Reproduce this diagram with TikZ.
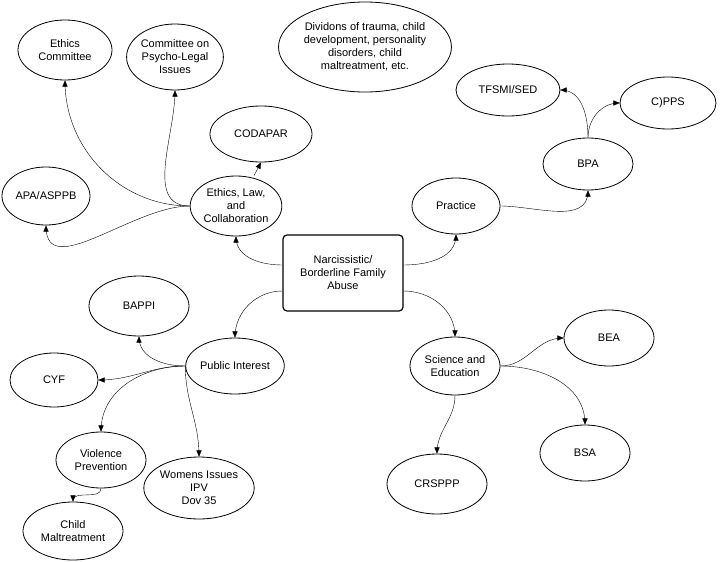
\documentclass[tikz,border=0pt]{standalone}
\usepackage{fontspec}
\setmainfont{Liberation Sans}
\usetikzlibrary{shapes.geometric,arrows}

\tikzset{
	topic/.style={draw, thick, ellipse, inner sep=0pt, align=center, font=\fontsize{11}{13}\selectfont},
	hub/.style={draw, very thick, rounded corners=4pt, minimum width=120pt, minimum height=76pt, align=center, font=\fontsize{11}{13}\selectfont},
	link/.style={->, >=triangle 45, thin}
}

\begin{document}
\begin{tikzpicture}[x=1pt, y=-1pt]
	\useasboundingbox (0,0) rectangle (721,562);
	\node[hub] (nb) at (343,273) {Narcissistic/\\Borderline Family\\Abuse};
	\node[topic, minimum width=94pt, minimum height=60pt] (ec) at (65,50) {Ethics\\Committee};
	\node[topic, minimum width=94pt, minimum height=66pt] (cpl) at (175,57) {Committee on\\Psycho-Legal\\Issues};
	\node[topic, minimum width=160pt, minimum height=90pt] (div) at (365,47) {Dividons of trauma, child\\development, personality\\disorders, child\\maltreatment,  etc.};
	\node[topic, minimum width=102pt, minimum height=56pt] (codapar) at (261,134) {CODAPAR};
	\node[topic, minimum width=104pt, minimum height=52pt] (tfsmi) at (508,90) {TFSMI/SED};
	\node[topic, minimum width=96pt, minimum height=52pt] (cpps) at (668,103) {C)PPS};
	\node[topic, minimum width=90pt, minimum height=52pt] (bpa) at (588,164) {BPA};
	\node[topic, minimum width=88pt, minimum height=58pt] (apa) at (46,196) {APA/ASPPB};
	\node[topic, minimum width=88pt, minimum height=60pt] (elc) at (236,206) {Ethics, Law,\\and\\Collaboration};
	\node[topic, minimum width=88pt, minimum height=56pt] (prac) at (456,206) {Practice};
	\node[topic, minimum width=100pt, minimum height=60pt] (bappi) at (139,306) {BAPPI};
	\node[topic, minimum width=90pt, minimum height=56pt] (pub) at (235,366) {Public Interest};
	\node[topic, minimum width=90pt, minimum height=58pt] (sci) at (455,366) {Science and\\Education};
	\node[topic, minimum width=90pt, minimum height=56pt] (bea) at (609,338) {BEA};
	\node[topic, minimum width=88pt, minimum height=54pt] (cyf) at (54,380) {CYF};
	\node[topic, minimum width=90pt, minimum height=56pt] (bsa) at (585,453) {BSA};
	\node[topic, minimum width=90pt, minimum height=56pt] (vp) at (101,460) {Violence\\Prevention};
	\node[topic, minimum width=90pt, minimum height=62pt] (wi) at (199,488) {Womens Issues\\IPV\\Dov 35};
	\node[topic, minimum width=100pt, minimum height=60pt] (crs) at (437,484) {CRSPPP};
	\node[topic, minimum width=100pt, minimum height=58pt] (cm) at (73,531) {Child\\Maltreatment};

	\draw[link] (nb.west) ++(0,-8) to[out=180, in=-90] (elc.south);
	\draw[link] (nb.east) ++(0,-8) to[out=0, in=-90] (prac.south);
	\draw[link] (nb.west) ++(0,18) to[out=180, in=90] (pub.north);
	\draw[link] (nb.east) ++(0,18) to[out=0, in=90] (sci.north);
	\draw[link] (elc.west) to[out=180, in=-90] (ec.south);
	\draw[link] (elc.west) to[out=180, in=-90] (cpl.south);
	\draw[link] (elc.west) to[out=180, in=-90] (apa.south);
	\draw[link] (elc.north) ++(18,0) -- (codapar.south);
	\draw[link] (prac.east) to[out=0, in=-90] (bpa.south);
	\draw[link] (bpa.north) to[out=90, in=0] (tfsmi.east);
	\draw[link] (bpa.north) to[out=90, in=180] (cpps.west);
	\draw[link] (pub.west) to[out=180, in=-90] (bappi.south);
	\draw[link] (pub.west) to[out=180, in=0] (cyf.east);
	\draw[link] (pub.west) to[out=180, in=90] (vp.north);
	\draw[link] (pub.west) to[out=-90, in=90] (wi.north);
	\draw[link] (vp.south) to[out=-90, in=90] (cm.north);
	\draw[link] (sci.east) to[out=0, in=180] (bea.west);
	\draw[link] (sci.east) to[out=0, in=90] (bsa.north);
	\draw[link] (sci.south) to[out=-90, in=90] (crs.north);
\end{tikzpicture}
\end{document}
